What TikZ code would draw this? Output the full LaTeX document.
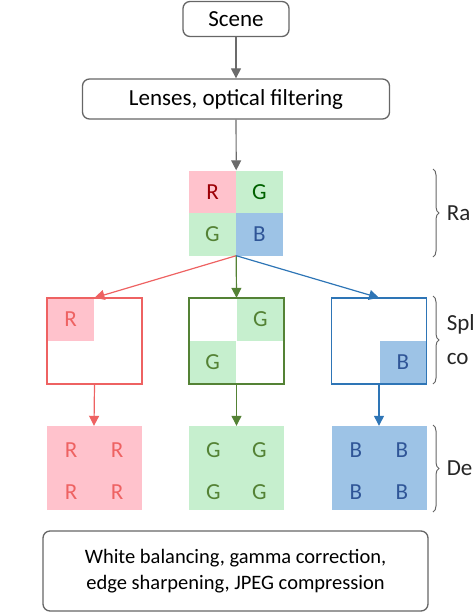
\documentclass[tikz,border=0pt]{standalone}
\usepackage{fontspec}
\setmainfont{Carlito}
\usetikzlibrary{arrows.meta,positioning,calc,decorations.pathreplacing}

\definecolor{rfill}{RGB}{255,194,204}
\definecolor{gfill}{RGB}{198,239,206}
\definecolor{bfill}{RGB}{157,195,230}
\definecolor{rline}{RGB}{238,98,98}
\definecolor{gline}{RGB}{84,130,53}
\definecolor{bline}{RGB}{46,117,182}
\definecolor{rdark}{RGB}{156,0,6}
\definecolor{gdark}{RGB}{0,97,0}
\definecolor{bdark}{RGB}{47,85,151}

\begin{document}
\begin{tikzpicture}[x=1pt, y=-1pt,
    font=\fontsize{23}{28}\selectfont,
    box/.style={rectangle, draw=black!60, line width=1.3pt, rounded corners=7pt, align=center},
    cell/.style={rectangle, inner sep=0pt, minimum width=47pt, minimum height=43pt},
    chan/.style={rectangle, fill=white, inner sep=0pt, minimum width=95pt, minimum height=86pt},
    dem/.style={rectangle, inner sep=0pt, minimum width=95pt, minimum height=84pt},
    arr/.style={-{Triangle[length=10pt,width=10pt]}, line width=1.2pt},
    brc/.style={draw=black!60, line width=1pt, decorate, decoration={brace, amplitude=6pt}}
]
    \useasboundingbox (0,0) rectangle (474,614);
    \clip (0,0) rectangle (474,614);

    % top of the pipeline
    \node[box, minimum width=106pt, minimum height=35pt] (scene) at (236,19) {Scene};
    \node[box, minimum width=307pt, minimum height=40pt] (lens) at (236,99) {Lenses, optical filtering};

    % raw bayer pattern
    \node[cell, fill=rfill, text=rdark] (rawR) at (212.5,192) {R};
    \node[cell, fill=gfill, text=gdark] (rawGa) at (259.5,192) {G};
    \node[cell, fill=gfill, text=gline] (rawGb) at (212.5,234) {G};
    \node[cell, fill=bfill, text=bdark] (rawB) at (259.5,234) {B};

    % split channels
    \node[chan] (splitR) at (94.5,341) {};
    \node[chan] (splitG) at (236.5,341) {};
    \node[chan] (splitB) at (379,341) {};
    \node[cell, fill=rfill, text=rline, minimum width=46pt, minimum height=42pt] (sR) at ($(splitR.north west)+(23.8,21.8)$) {R};
    \node[cell, fill=gfill, text=gline, minimum width=46pt, minimum height=42pt] (sGa) at ($(splitG.north east)+(-23.8,21.8)$) {G};
    \node[cell, fill=gfill, text=gline, minimum width=46pt, minimum height=42pt] (sGb) at ($(splitG.south west)+(23.8,-21.8)$) {G};
    \node[cell, fill=bfill, text=bdark, minimum width=46pt, minimum height=42pt] (sB) at ($(splitB.south east)+(-23.8,-21.8)$) {B};
    \draw[rline, line width=1.5pt] (splitR.north west) rectangle (splitR.south east);
    \draw[gline, line width=1.5pt] (splitG.north west) rectangle (splitG.south east);
    \draw[bline, line width=1.5pt] (splitB.north west) rectangle (splitB.south east);

    % demosaiced channels
    \node[dem, fill=rfill] (demR) at (94,468) {};
    \node[dem, fill=gfill] (demG) at (236.5,468) {};
    \node[dem, fill=bfill] (demB) at (379,468) {};
    \foreach \nm/\ch/\col in {demR/R/rline, demG/G/gline, demB/B/bdark} {
        \node[text=\col] at ($(\nm.center)+(-23,-18)$) {\ch};
        \node[text=\col] at ($(\nm.center)+(23,-18)$) {\ch};
        \node[text=\col] at ($(\nm.center)+(-23,24)$) {\ch};
        \node[text=\col] at ($(\nm.center)+(23,24)$) {\ch};
    }

    % post processing
    \node[box, minimum width=385pt, minimum height=80pt, align=center, font=\fontsize{20.5}{26}\selectfont] (post) at (235.5,571)
        {White balancing, gamma correction,\\edge sharpening, JPEG compression};

    % connectors
    \draw[arr, black!58] (scene) -- (lens);
    \draw[arr, black!58] (lens) -- (rawR.north east);
    \draw[arr, rline] (rawGb.south east) -- (splitR.north);
    \draw[arr, gline] (rawGb.south east) -- (splitG.north);
    \draw[arr, bline] (rawGb.south east) -- (splitB.north);
    \draw[arr, rline] (splitR.south) -- (demR.north);
    \draw[arr, gline] (splitG.south) -- (demG.north);
    \draw[arr, bline] (splitB.south) -- (demB.north);

    % stage braces
    \draw[brc] (433,169) -- (433,257) node[midway, right=10pt, black!85] (rawlbl) {Ra};
    \draw[brc] (433,296) -- (433,384) node[midway, right=10pt, black!85, align=left] (splitlbl) {Spl\\[6pt]co};
    \draw[brc] (433,425) -- (433,512) node[midway, right=10pt, black!85] (demlbl) {De};
\end{tikzpicture}
\end{document}
